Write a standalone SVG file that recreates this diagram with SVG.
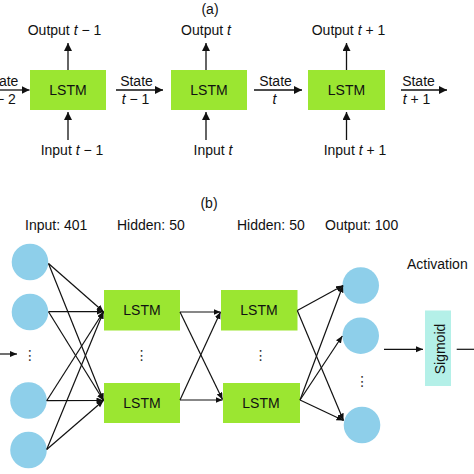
<svg xmlns="http://www.w3.org/2000/svg" width="474" height="474" viewBox="0 0 474 474">
<defs>
<style>
text{font-family:"Liberation Sans",Arial,sans-serif;font-size:14px;fill:#111;}
.mid{text-anchor:middle;}
.it{font-style:italic;}
.lstm{fill:#9be631;}
.neuron{fill:#8ecfea;}
.sig{fill:#b4f0e8;}
.ca{stroke:#111;stroke-width:1.3;fill:none;marker-end:url(#ha);}
.cb{stroke:#111;stroke-width:1.2;fill:none;marker-end:url(#hb);}
.cn{stroke:#111;stroke-width:1.2;fill:none;}
.dots{font-family:"DejaVu Sans",sans-serif;font-size:14px;fill:#333;text-anchor:middle;}
</style>
<marker id="ha" markerUnits="userSpaceOnUse" markerWidth="9" markerHeight="9" refX="8" refY="4" orient="auto">
<path d="M0,0 L8,4 L0,8 z" fill="#111"/>
</marker>
<marker id="hb" markerUnits="userSpaceOnUse" markerWidth="8" markerHeight="7" refX="7" refY="3" orient="auto">
<path d="M0,0 L7,3 L0,6 z" fill="#111"/>
</marker>
</defs>
<rect width="474" height="474" fill="#fff"/>

<!-- (a) -->
<text id="label-a" class="mid" x="210" y="14">(a)</text>
<g id="a-lstm1"><rect class="lstm" x="30" y="70" width="76" height="40"/><text class="mid" x="68" y="95">LSTM</text></g>
<g id="a-lstm2"><rect class="lstm" x="171" y="70" width="76" height="40"/><text class="mid" x="209" y="95">LSTM</text></g>
<g id="a-lstm3"><rect class="lstm" x="308" y="70" width="77" height="40"/><text class="mid" x="346.5" y="95">LSTM</text></g>

<g id="a-labels">
<text class="mid" x="64.5" y="35">Output <tspan class="it">t</tspan> − 1</text>
<text class="mid" x="206" y="35">Output <tspan class="it">t</tspan></text>
<text class="mid" x="348.5" y="35">Output <tspan class="it">t</tspan> + 1</text>
<text class="mid" x="72" y="155">Input <tspan class="it">t</tspan> − 1</text>
<text class="mid" x="213" y="155">Input <tspan class="it">t</tspan></text>
<text class="mid" x="355" y="155">Input <tspan class="it">t</tspan> + 1</text>
<text class="mid" x="2" y="86">State</text>
<text class="mid" x="2" y="103.5"><tspan class="it">t</tspan> − 2</text>
<text class="mid" x="136.5" y="86">State</text>
<text class="mid" x="135.5" y="103.5"><tspan class="it">t</tspan> − 1</text>
<text class="mid" x="275.5" y="86">State</text>
<text class="mid" x="274.5" y="103.5"><tspan class="it">t</tspan></text>
<text class="mid" x="418.5" y="86">State</text>
<text class="mid" x="416.5" y="103.5"><tspan class="it">t</tspan> + 1</text>
</g>

<g id="a-connectors">
<line class="ca" x1="68" y1="70" x2="68" y2="43"/>
<line class="ca" x1="206" y1="70" x2="206" y2="43"/>
<line class="ca" x1="346.5" y1="70" x2="346.5" y2="43"/>
<line class="ca" x1="68" y1="140" x2="68" y2="112"/>
<line class="ca" x1="206" y1="140" x2="206" y2="112"/>
<line class="ca" x1="346.5" y1="140" x2="346.5" y2="112"/>
<line class="ca" x1="0" y1="90" x2="29.5" y2="90"/>
<line class="ca" x1="116" y1="90" x2="163" y2="90"/>
<line class="ca" x1="254" y1="90" x2="302" y2="90"/>
<line class="ca" x1="401" y1="90" x2="447" y2="90"/>
</g>

<!-- (b) -->
<text id="label-b" class="mid" x="209" y="208">(b)</text>
<g id="b-headers">
<text x="25" y="229.5">Input: 401</text>
<text x="117" y="229.5">Hidden: 50</text>
<text x="237" y="229.5">Hidden: 50</text>
<text x="325" y="229.5">Output: 100</text>
<text x="407" y="269">Activation</text>
</g>

<g id="in1"><circle class="neuron" cx="30" cy="262" r="18.3"/></g>
<g id="in2"><circle class="neuron" cx="30" cy="312" r="18.3"/></g>
<g id="in3"><circle class="neuron" cx="28.5" cy="400.5" r="18.3"/></g>
<g id="in4"><circle class="neuron" cx="28.5" cy="450" r="18.3"/></g>
<text id="in-dots" class="dots" x="30" y="360">⋮</text>

<g id="h1a"><rect class="lstm" x="104" y="290" width="76" height="40.5"/><text class="mid" x="142" y="315">LSTM</text></g>
<g id="h1b"><rect class="lstm" x="104" y="383" width="76" height="40"/><text class="mid" x="142" y="408">LSTM</text></g>
<text id="h1-dots" class="dots" x="141.7" y="360">⋮</text>

<g id="h2a"><rect class="lstm" x="221" y="290" width="76.5" height="40.5"/><text class="mid" x="259" y="315">LSTM</text></g>
<g id="h2b"><rect class="lstm" x="223" y="383" width="77" height="40"/><text class="mid" x="261" y="408">LSTM</text></g>
<text id="h2-dots" class="dots" x="260.7" y="360">⋮</text>

<g id="out1"><circle class="neuron" cx="360.7" cy="285.5" r="18.3"/></g>
<g id="out2"><circle class="neuron" cx="360.7" cy="335.7" r="18.3"/></g>
<g id="out3"><circle class="neuron" cx="362" cy="425" r="18.3"/></g>
<text id="out-dots" class="dots" x="362.3" y="386">⋮</text>

<g id="sigmoid"><rect class="sig" x="425" y="310.5" width="26" height="75.5"/><text class="mid" transform="translate(445,349) rotate(-90)" x="0" y="0">Sigmoid</text></g>

<g id="b-connectors">
<line class="cb" x1="0" y1="354" x2="17" y2="354"/>
<line class="cb" x1="48.5" y1="263.5" x2="103.5" y2="311.7"/>
<line class="cb" x1="48.5" y1="263.5" x2="103.5" y2="400.5"/>
<line class="cb" x1="48.5" y1="311.7" x2="103.5" y2="311.7"/>
<line class="cb" x1="48.5" y1="311.7" x2="103.5" y2="400.5"/>
<line class="cb" x1="46.7" y1="400.7" x2="103.5" y2="311.7"/>
<line class="cb" x1="46.7" y1="400.7" x2="103.5" y2="400.5"/>
<line class="cb" x1="46.7" y1="449.5" x2="103.5" y2="311.7"/>
<line class="cb" x1="46.7" y1="449.5" x2="103.5" y2="400.5"/>
<line class="cb" x1="180" y1="312" x2="220.5" y2="312"/>
<line class="cb" x1="180" y1="312" x2="222.5" y2="399.5"/>
<line class="cb" x1="180" y1="400" x2="220.5" y2="312"/>
<line class="cb" x1="180" y1="400" x2="222.5" y2="400"/>
<line class="cb" x1="297.3" y1="310.5" x2="343" y2="285.5"/>
<line class="cb" x1="297.3" y1="310.5" x2="343.5" y2="420.5"/>
<line class="cb" x1="300" y1="400" x2="343" y2="285.5"/>
<line class="cb" x1="300" y1="400" x2="342.3" y2="336"/>
<line class="cb" x1="300" y1="400" x2="343.5" y2="420.5"/>
<line class="cb" x1="384" y1="349.3" x2="423" y2="349.3"/>
<line class="cn" x1="456.7" y1="349.3" x2="474" y2="349.3"/>
</g>
</svg>
